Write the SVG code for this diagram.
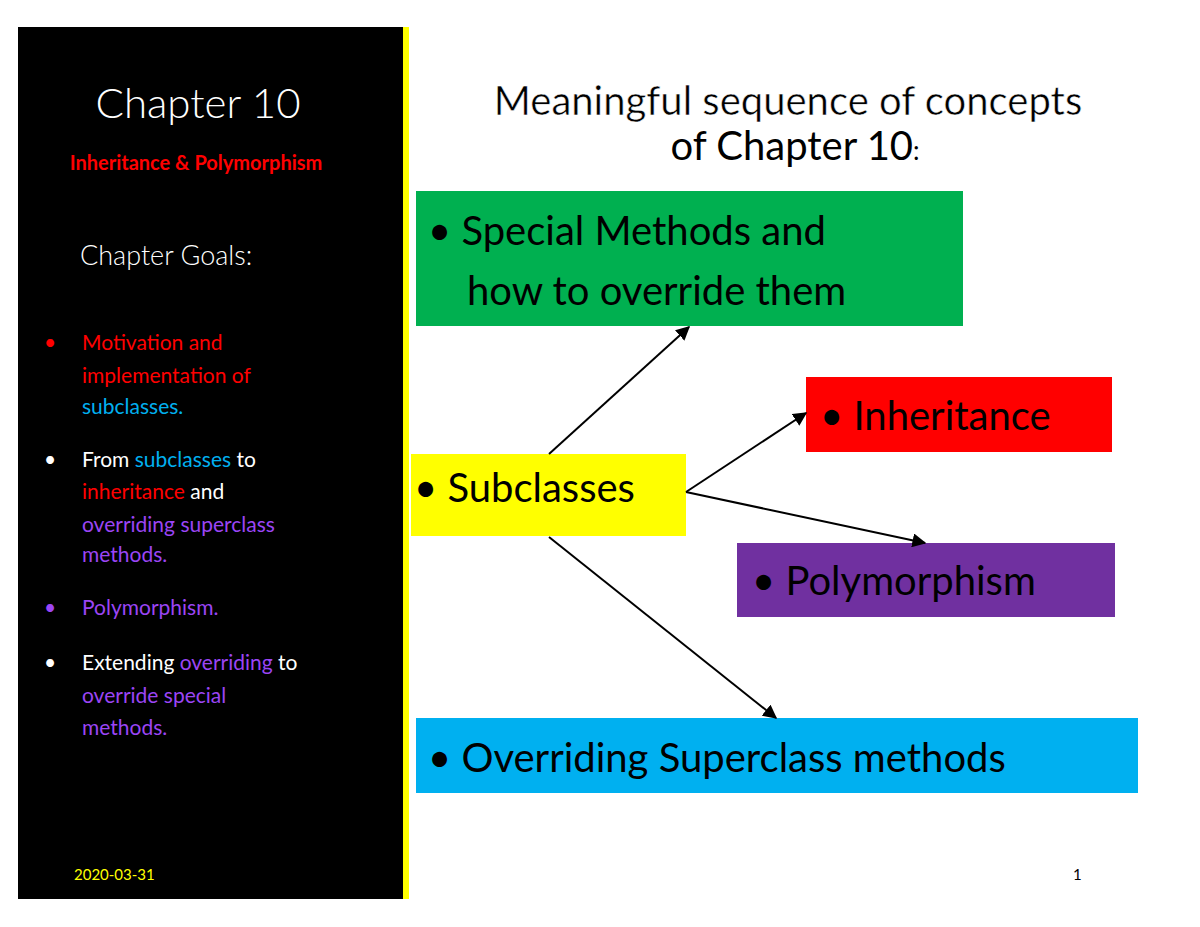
<svg xmlns="http://www.w3.org/2000/svg" width="1200" height="927" viewBox="0 0 1200 927">
<defs>
<style>
text{font-family:Lato,"Open Sans","Liberation Sans",sans-serif}
.w{fill:#fff}.r{fill:#ff0000}.b{fill:#00b0f0}.p{fill:#9b45f5}.k{fill:#000}
.g{font-size:21px}
.n{font-size:40px;fill:#000}
.c{stroke:#000;stroke-width:2;fill:none;marker-end:url(#ah)}
</style>
<marker id="ah" viewBox="0 0 10 10" refX="9" refY="5" markerWidth="7" markerHeight="7" orient="auto"><path d="M0,0 L10,5 L0,10 z" fill="#000"/></marker>
</defs>
<rect width="1200" height="927" fill="#fff"/>
<g id="sidebar">
<rect x="18" y="27" width="386" height="872" fill="#000"/>
<rect x="403" y="27" width="6" height="872" fill="#ffff00"/>
<text x="198" y="118" text-anchor="middle" class="w" font-size="42" font-weight="300">Chapter 10</text>
<text x="196" y="170" text-anchor="middle" class="r" font-size="20" font-weight="bold">Inheritance &amp; Polymorphism</text>
<text x="80" y="265" class="w" font-size="27" font-weight="300">Chapter Goals:</text>
<g class="g">
<text x="44" y="350" class="r">•</text>
<text x="82" y="350" class="r">Motivation and</text>
<text x="82" y="383" class="r">implementation of</text>
<text x="82" y="414" class="b">subclasses.</text>
<text x="44" y="467" class="w">•</text>
<text x="82" y="467"><tspan class="w">From </tspan><tspan class="b">subclasses</tspan><tspan class="w"> to</tspan></text>
<text x="82" y="499"><tspan class="r">inheritance</tspan><tspan class="w"> and</tspan></text>
<text x="82" y="532" class="p">overriding  superclass</text>
<text x="82" y="562" class="p">methods.</text>
<text x="44" y="615" class="p">•</text>
<text x="82" y="615" class="p">Polymorphism.</text>
<text x="44" y="670" class="w">•</text>
<text x="82" y="670"><tspan class="w">Extending </tspan><tspan class="p">overriding</tspan><tspan class="w"> to</tspan></text>
<text x="82" y="703" class="p">override special</text>
<text x="82" y="735" class="p">methods.</text>
</g>
<text x="74" y="880" fill="#ffff00" font-size="15">2020-03-31</text>
</g>
<g id="title">
<text x="788" y="115" text-anchor="middle" font-size="40" fill="#000" stroke="#fff" stroke-width="0.5">Meaningful sequence of concepts</text>
<text x="795" y="160" text-anchor="middle" font-size="40" fill="#000">of Chapter 10<tspan font-size="26">:</tspan></text>
</g>
<g id="special">
<rect x="416" y="191" width="547" height="135" fill="#00b050"/>
<text x="428" y="245" class="n">• Special Methods and</text>
<text x="467" y="305" class="n">how to override them</text>
</g>
<g id="inheritance">
<rect x="806" y="377" width="306" height="75" fill="#ff0000"/>
<text x="820" y="430" class="n">• Inheritance</text>
</g>
<g id="subclasses">
<rect x="411" y="454" width="275" height="82" fill="#ffff00"/>
<text x="414" y="502" class="n">• Subclasses</text>
</g>
<g id="polymorphism">
<rect x="737" y="543" width="378" height="74" fill="#7030a0"/>
<text x="752" y="595" class="n">• Polymorphism</text>
</g>
<g id="overriding">
<rect x="416" y="718" width="722" height="75" fill="#00b0f0"/>
<text x="428" y="772" class="n">• Overriding Superclass methods</text>
</g>
<g id="connectors">
<line x1="549" y1="454" x2="689" y2="327" class="c"/>
<line x1="686" y1="492" x2="806" y2="413" class="c"/>
<line x1="686" y1="492" x2="925" y2="543" class="c"/>
<line x1="549" y1="537" x2="776" y2="718" class="c"/>
</g>
<text x="1073" y="880" font-size="15" fill="#000">1</text>
</svg>
